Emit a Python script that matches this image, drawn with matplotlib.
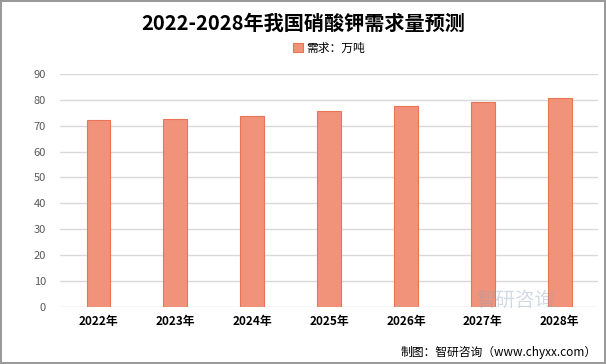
import matplotlib
matplotlib.use('Agg')
from matplotlib import pyplot as plt

plt.rcParams['font.family'] = ['Noto Sans CJK SC', 'DejaVu Sans']

years = ['2022年', '2023年', '2024年', '2025年', '2026年', '2027年', '2028年']
demand = [72.0, 72.6, 73.8, 75.8, 77.6, 79.2, 80.7]   # 万吨
yticks = [0, 10, 20, 30, 40, 50, 60, 70, 80, 90]

fig = plt.figure(figsize=(6.06, 3.64), dpi=100)
fig.patch.set_edgecolor('#9a9a9a')
fig.patch.set_linewidth(1.5)
ax = fig.add_axes([0.099, 0.157, 0.888, 0.64])

x = list(range(len(years)))
ax.bar(x, demand, width=0.31, color='#F0937A', edgecolor='#EA7453', linewidth=0.8,
       label='需求：万吨', zorder=3)

ax.set_ylim(0, 90)
ax.set_xlim(-0.5, len(years) - 0.5)
ax.set_yticks(yticks)
ax.set_yticklabels([str(v) for v in yticks], fontsize=8, color='#595959')
ax.set_xticks(x)
ax.set_xticklabels(years, fontsize=8.5, fontweight='bold', color='black')
ax.tick_params(axis='both', length=0)
ax.tick_params(axis='y', pad=10)
ax.tick_params(axis='x', pad=6)
ax.grid(axis='y', color='#D9D9D9', linewidth=1, zorder=0)
for s in ax.spines.values():
    s.set_visible(False)

fig.text(0.5, 0.935, '2022-2028年我国硝酸钾需求量预测', ha='center', va='center',
         fontsize=14.5, fontweight='bold')
ax.legend(loc='center', bbox_to_anchor=(0.5, 1.11), frameon=False, fontsize=8.5,
          handlelength=0.8, handleheight=0.8, handletextpad=0.3)

# watermark + source
fig.text(0.85, 0.175, '智研咨询', ha='center', va='center', fontsize=14,
         color='#8fa3bf', alpha=0.4, zorder=5)
fig.text(0.985, 0.032, '制图：智研咨询（www.chyxx.com）', ha='right', va='center',
         fontsize=8.5, color='black')

plt.savefig('out.png', dpi=100, edgecolor=fig.get_edgecolor())
